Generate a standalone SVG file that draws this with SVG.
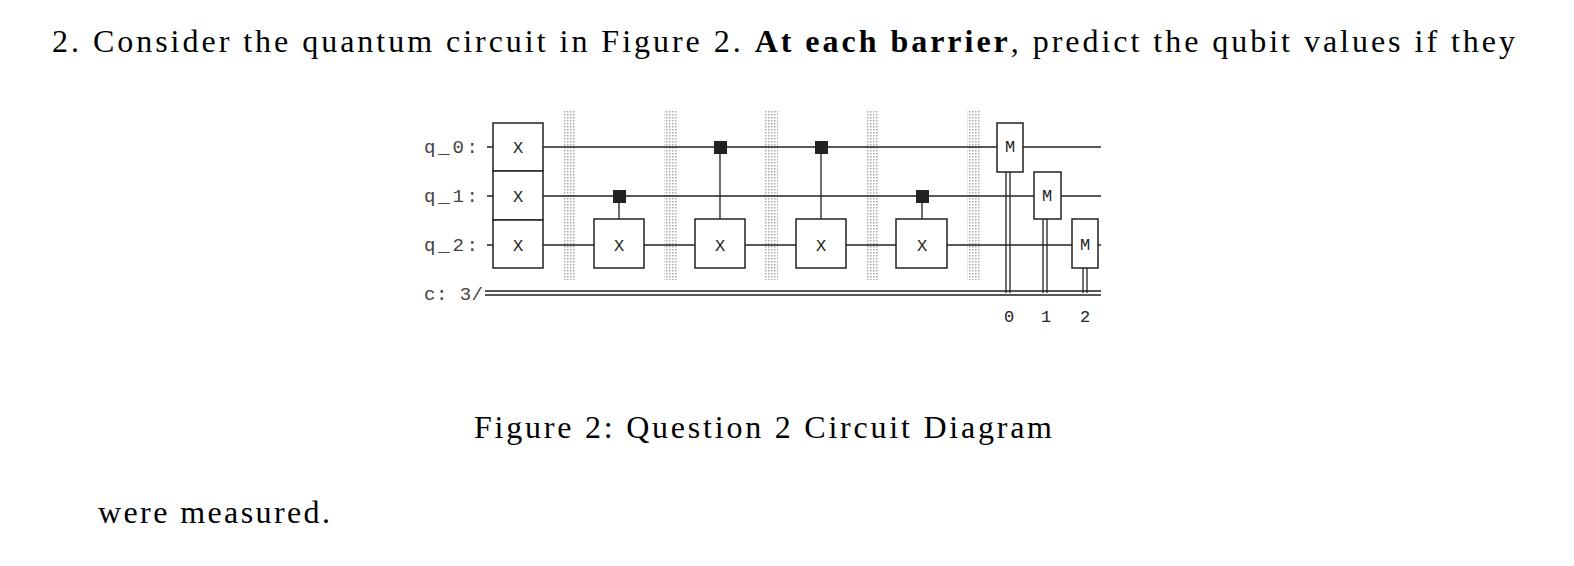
<svg xmlns="http://www.w3.org/2000/svg" width="1574" height="566" viewBox="0 0 1574 566">
<style>
.t{font-family:"Liberation Serif",serif;font-size:32px;fill:#000}
.m{font-family:"Liberation Mono",monospace;font-size:19px;fill:#444}
.w{stroke:#222;stroke-width:1.3;fill:none}
.b{fill:#fff;stroke:#222;stroke-width:1.5}
.g{font-family:"Liberation Mono",monospace;font-size:17px;fill:#222;text-anchor:middle}
</style>
<defs>
<pattern id="dots" width="3" height="3" patternUnits="userSpaceOnUse"><rect width="3" height="3" fill="#fff"/><rect width="1.5" height="1.5" fill="#aaa"/></pattern>
</defs>
<rect width="1574" height="566" fill="#fff"/>
<text class="t" x="52" y="52" textLength="1463" lengthAdjust="spacing">2.  Consider the quantum circuit in Figure 2.  <tspan font-weight="bold">At each barrier</tspan>, predict the qubit values if they</text>
<text class="t" x="474" y="438" textLength="578" lengthAdjust="spacing">Figure 2:  Question 2 Circuit Diagram</text>
<text class="t" x="98" y="523" textLength="232" lengthAdjust="spacing">were measured.</text>
<g id="barriers" fill="url(#dots)">
<rect x="563" y="110" width="13" height="170"/>
<rect x="664" y="110" width="13" height="170"/>
<rect x="765" y="110" width="13" height="170"/>
<rect x="866" y="110" width="13" height="170"/>
<rect x="967" y="110" width="13" height="170"/>
</g>
<g id="labels">
<text class="m" x="424" y="153" textLength="54">q_0:</text>
<text class="m" x="424" y="202" textLength="54">q_1:</text>
<text class="m" x="424" y="251" textLength="54">q_2:</text>
<text class="m" x="424" y="300" textLength="59">c: 3/</text>
</g>
<g id="connectors">
<path class="w" d="M487 147H1101M487 196H1101M487 245H1101"/>
<path class="w" d="M485 291H1101M485 295H1101"/>
<path class="w" d="M619 196V219M720 147V219M821 147V219M922 196V219"/>
<path class="w" d="M1006 172V293M1010 172V293M1043 219V293M1047 219V293M1083 268V293M1087 268V293"/>
</g>
<g id="x0"><rect class="b" x="493" y="123" width="50" height="48"/><text class="g" x="518" y="153">X</text></g>
<g id="x1"><rect class="b" x="493" y="171" width="50" height="49"/><text class="g" x="518" y="202">X</text></g>
<g id="x2"><rect class="b" x="493" y="220" width="50" height="48"/><text class="g" x="518" y="251">X</text></g>
<g id="cx1"><rect x="613" y="190" width="13" height="13" fill="#222"/><rect class="b" x="594" y="219" width="50" height="49"/><text class="g" x="619" y="251">X</text></g>
<g id="cx2"><rect x="714" y="141" width="13" height="13" fill="#222"/><rect class="b" x="695" y="219" width="50" height="49"/><text class="g" x="720" y="251">X</text></g>
<g id="cx3"><rect x="815" y="141" width="13" height="13" fill="#222"/><rect class="b" x="796" y="219" width="50" height="49"/><text class="g" x="821" y="251">X</text></g>
<g id="cx4"><rect x="916" y="190" width="13" height="13" fill="#222"/><rect class="b" x="896" y="219" width="51" height="49"/><text class="g" x="922" y="251">X</text></g>
<g id="m0"><rect class="b" x="997" y="123" width="26" height="49"/><text class="g" x="1010" y="152" font-size="15">M</text></g>
<g id="m1"><rect class="b" x="1034" y="172" width="27" height="47"/><text class="g" x="1047" y="201" font-size="15">M</text></g>
<g id="m2"><rect class="b" x="1072" y="219" width="26" height="49"/><text class="g" x="1085" y="250" font-size="15">M</text></g>
<g id="bits" class="g"><text x="1009" y="322">0</text><text x="1046" y="322">1</text><text x="1085" y="322">2</text></g>
</svg>
